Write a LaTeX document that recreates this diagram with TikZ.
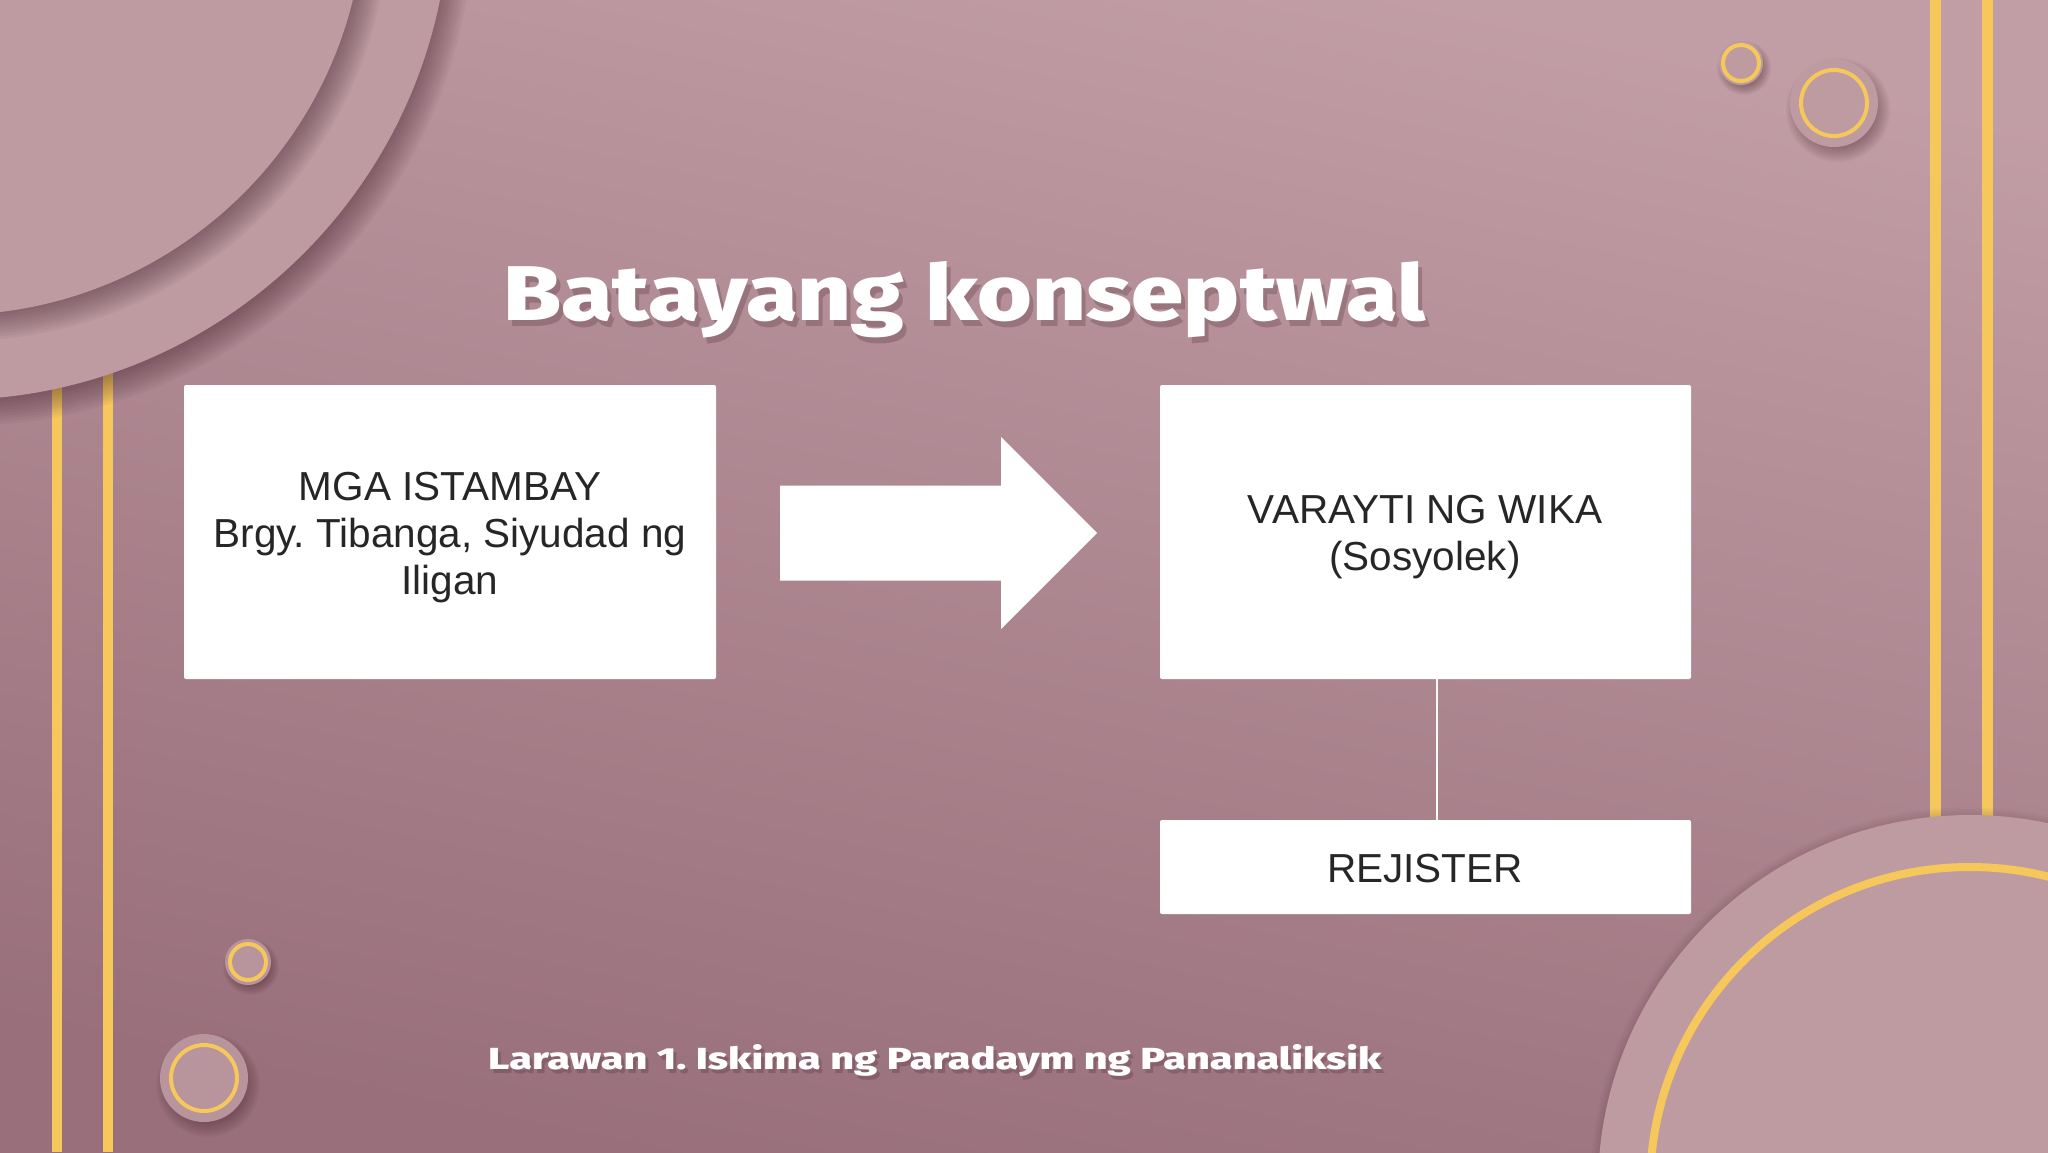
\documentclass[tikz,border=0pt]{standalone}
\usepackage{fontspec}
\usepackage{graphicx}
\setmainfont{Liberation Sans}
\newfontfamily\headfont{Fira Sans}[BoldFont={* ExtraBold}]
\definecolor{bgtop}{RGB}{193,157,165}
\definecolor{bgbot}{RGB}{152,111,123}
\definecolor{circ}{RGB}{189,155,161}
\definecolor{disc}{RGB}{184,148,156}
\definecolor{gold}{RGB}{246,200,92}
\definecolor{textc}{RGB}{38,38,38}
\definecolor{shad}{RGB}{70,35,45}
\tikzset{
  box/.style={fill=white, draw=none, rounded corners=2pt, inner sep=0pt},
  boxtext/.style={text=textc, font=\fontsize{40.5}{47}\selectfont, align=center, inner sep=0pt},
  goldline/.style={draw=gold, line width=10pt},
  ring/.style={draw=gold, line width=4pt},
  conn/.style={draw=white!92!pink, line width=2pt},
  headtext/.style={text=white, inner sep=0pt, anchor=base west},
  headshadow/.style={text=shad, opacity=0.25, inner sep=0pt, anchor=base west}
}
\newcommand{\softshadow}[5]{% cx cy r spread opacity
  \foreach \k in {0,...,10}{
    \pgfmathsetmacro{\rr}{#3-#4+2*#4*\k/10}
    \fill[shad, opacity=#5] (#1,#2) circle[radius=\rr pt];
  }}
\newcommand{\titletxt}{\resizebox{922pt}{59pt}{\headfont\bfseries Batayang konseptwal}}
\newcommand{\captxt}{\resizebox{893pt}{25pt}{\headfont\bfseries Larawan 1. Iskima ng Paradaym ng Pananaliksik}}
\frenchspacing
\begin{document}
\begin{tikzpicture}[x=1pt,y=-1pt]
\useasboundingbox (0,0) rectangle (2048,1152);
\clip (0,0) rectangle (2048,1152);
% background
\shade[top color=bgtop, bottom color=bgbot, shading angle=-12] (0,0) rectangle (2048,1152);
% gold vertical lines
\draw[goldline] (57,300) -- (57,1152);
\draw[goldline] (108,300) -- (108,1152);
\draw[goldline, line width=11pt] (1935,0) -- (1935,900);
\draw[goldline, line width=11pt] (1987,0) -- (1987,900);
% top-left circles
\softshadow{-40}{-88}{500}{14}{0.05}
\fill[circ] (-50,-100) circle[radius=500pt];
\softshadow{-40}{-88}{415}{14}{0.05}
\fill[circ] (-50,-100) circle[radius=415pt];
% bottom-right circle
\softshadow{1968}{1185}{372}{6}{0.02}
\fill[circ] (1970,1187) circle[radius=372pt];
\draw[gold, line width=8pt] (1970,1187) circle[radius=320pt];
% small rings top right
\softshadow{1744}{68}{22}{5}{0.045}
\fill[circ] (1741,63) circle[radius=22pt];
\draw[ring] (1741,63) circle[radius=18pt];
\softshadow{1838}{110}{44}{8}{0.045}
\fill[circ] (1834,103) circle[radius=44pt];
\draw[ring] (1834,103) circle[radius=33pt];
% small rings bottom left
\softshadow{251}{967}{23}{5}{0.045}
\fill[disc] (248,962) circle[radius=23pt];
\draw[ring] (248,962) circle[radius=18pt];
\softshadow{208}{1085}{44}{8}{0.045}
\fill[disc] (204,1078) circle[radius=44pt];
\draw[ring] (204,1078) circle[radius=33pt];
% title
\node[headshadow] (titleshadow) at (507,326) {\titletxt};
\node[headtext] (title) at (503,320) {\titletxt};
% boxes
\node[box, minimum width=532pt, minimum height=294pt] (src) at (450,532) {};
\node[box, minimum width=531pt, minimum height=294pt] (dst) at (1425.5,532) {};
\node[box, minimum width=531pt, minimum height=94pt] (rej) at (1425.5,867) {};
\node[boxtext, anchor=north] (srctext) at (450,472) {MGA ISTAMBAY\\Brgy. Tibanga, Siyudad ng\\Iligan};
\node[boxtext, anchor=north] (dsttext) at (1425,495) {VARAYTI NG WIKA\\(Sosyolek)};
\node[boxtext, anchor=base] (rejtext) at (1425,882) {REJISTER};
% block arrow
\fill[white] (780,485.5) -- (1001,485.5) -- (1001,437) -- (1097,533) -- (1001,629) -- (1001,580.5) -- (780,580.5) -- cycle;
% connector
\coordinate (c1) at ([xshift=11.5pt]dst.south);
\coordinate (c2) at (c1 |- rej.north);
\draw[conn] (c1) -- (c2);
% caption
\node[headshadow] (capshadow) at (491,1073) {\captxt};
\node[headtext] (cap) at (488,1069) {\captxt};
\end{tikzpicture}
\end{document}
